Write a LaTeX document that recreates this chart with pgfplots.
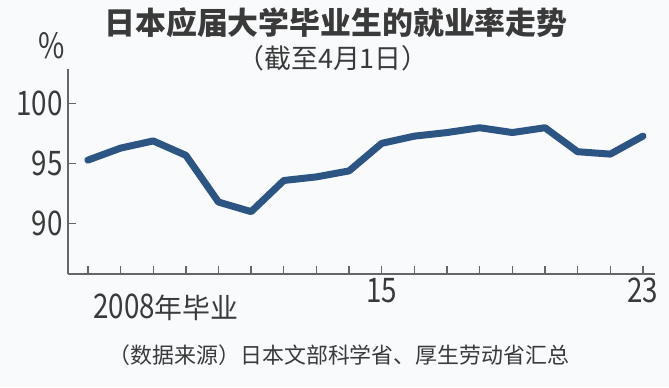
\documentclass[border=0pt]{standalone}
\usepackage{fontspec}
\setmainfont{Noto Sans CJK SC}
\newfontfamily\numfont[FakeStretch=0.82]{Noto Sans CJK SC}
\usepackage{pgfplots}
\pgfplotsset{compat=1.18}
\definecolor{linec}{HTML}{2D5584}
\definecolor{txt}{HTML}{3A3A3A}
\definecolor{axc}{HTML}{666666}
\definecolor{bg}{HTML}{F9FAFC}
\begin{document}
\begin{tikzpicture}[x=1bp,y=1bp]
\path[use as bounding box, fill=bg] (0,0) rectangle (669,387);
\begin{axis}[scale only axis, width=587bp, height=205bp,
  at={(68bp,113bp)}, anchor=south west,
  xmin=2005.39, xmax=2023.37, ymin=85.8, ymax=102.9,
  axis x line=bottom, axis y line=left,
  axis line style={axc, line width=1.6bp, -},
  xtick={2006,...,2023},
  xticklabels={,,,,,,,,,15,,,,,,,,23},
  ytick={90,95,100},
  tick align=inside, major tick length=8bp,
  tick style={axc, line width=1.4bp},
  /pgf/number format/assume math mode=true,
  ticklabel style={font=\numfont\fontsize{34}{34}\selectfont, text=txt},
  yticklabel style={inner sep=1bp, xshift=-4bp},
  xticklabel style={inner sep=4bp},
  clip=false]
\addplot[linec, line width=7bp, line join=round, line cap=round] coordinates {
(2006,95.3) (2007,96.3) (2008,96.9) (2009,95.7) (2010,91.8) (2011,91.0)
(2012,93.6) (2013,93.9) (2014,94.4) (2015,96.7) (2016,97.3) (2017,97.6)
(2018,98.0) (2019,97.6) (2020,98.0) (2021,96.0) (2022,95.8) (2023,97.3)};
\end{axis}
\node[font=\bfseries\fontsize{31}{31}\selectfont, text=txt] at (336,364) {日本应届大学毕业生的就业率走势};
\node[font=\fontsize{27}{27}\selectfont, text=txt] at (333,329) {（截至4月1日）};
\node[font=\numfont\fontsize{35}{35}\selectfont, text=txt] at (52,341) {\%};
\node[text=txt, anchor=base] at (166,69) {{\numfont\fontsize{34}{34}\selectfont 2008}{\fontsize{28}{28}\selectfont 年毕业}};
\node[font=\fontsize{22}{22}\selectfont, text=txt] at (339,32) {（数据来源）日本文部科学省、厚生劳动省汇总};
\end{tikzpicture}
\end{document}
